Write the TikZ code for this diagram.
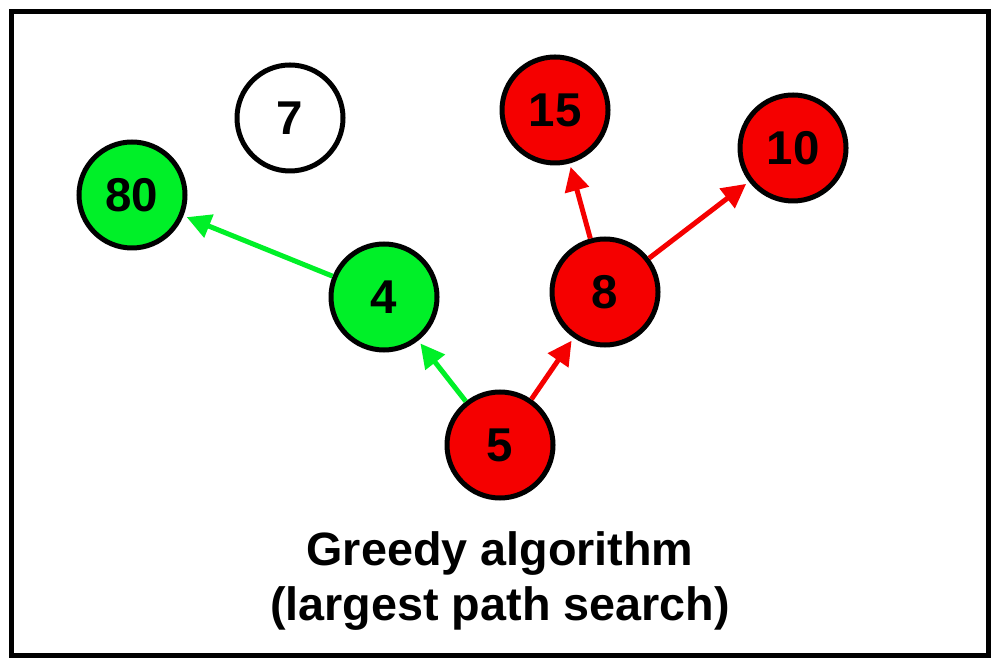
\documentclass[tikz,border=0pt]{standalone}
\usepackage{fontspec}
\setmainfont{Liberation Sans}
\usetikzlibrary{arrows.meta}
\definecolor{vgreen}{RGB}{0,240,40}
\definecolor{vred}{RGB}{245,0,0}
\begin{document}
\begin{tikzpicture}[
    vertex/.style={circle, draw, line width=0.05cm, minimum size=1.06cm, inner sep=0pt,
                   font=\fontsize{13.5}{15}\selectfont\bfseries},
    edge/.style={line width=0.05cm, -{Triangle[length=0.24cm, width=0.24cm]}, shorten >=1pt}]

        % Frame
        \draw[line width=0.05cm] (0.12,0.12) rectangle (9.88,6.55);
        \useasboundingbox (0,0) rectangle (10,6.67);

        % Vertices
        \node[vertex, fill=white]  (n7)  at (2.90,5.49) {7};
        \node[vertex, fill=vgreen] (n80) at (1.32,4.72) {80};
        \node[vertex, fill=vred]   (n15) at (5.55,5.57) {15};
        \node[vertex, fill=vred]   (n10) at (7.93,5.19) {10};
        \node[vertex, fill=vgreen] (n4)  at (3.84,3.70) {4};
        \node[vertex, fill=vred]   (n8)  at (6.05,3.75) {8};
        \node[vertex, fill=vred]   (n5)  at (5.00,2.22) {5};

        % Edges
        \draw[edge, vgreen] (n5) -- (n4);
        \draw[edge, vgreen] (n4) -- (n80);
        \draw[edge, vred] (n5) -- (n8);
        \draw[edge, vred] (n8) -- (n15);
        \draw[edge, vred] (n8) -- (n10);

        \node[font=\fontsize{13.3}{15.6}\selectfont\bfseries, align=center] (title) at (5.00,0.86)
            {Greedy algorithm\\(largest path search)};

    \end{tikzpicture}
\end{document}
